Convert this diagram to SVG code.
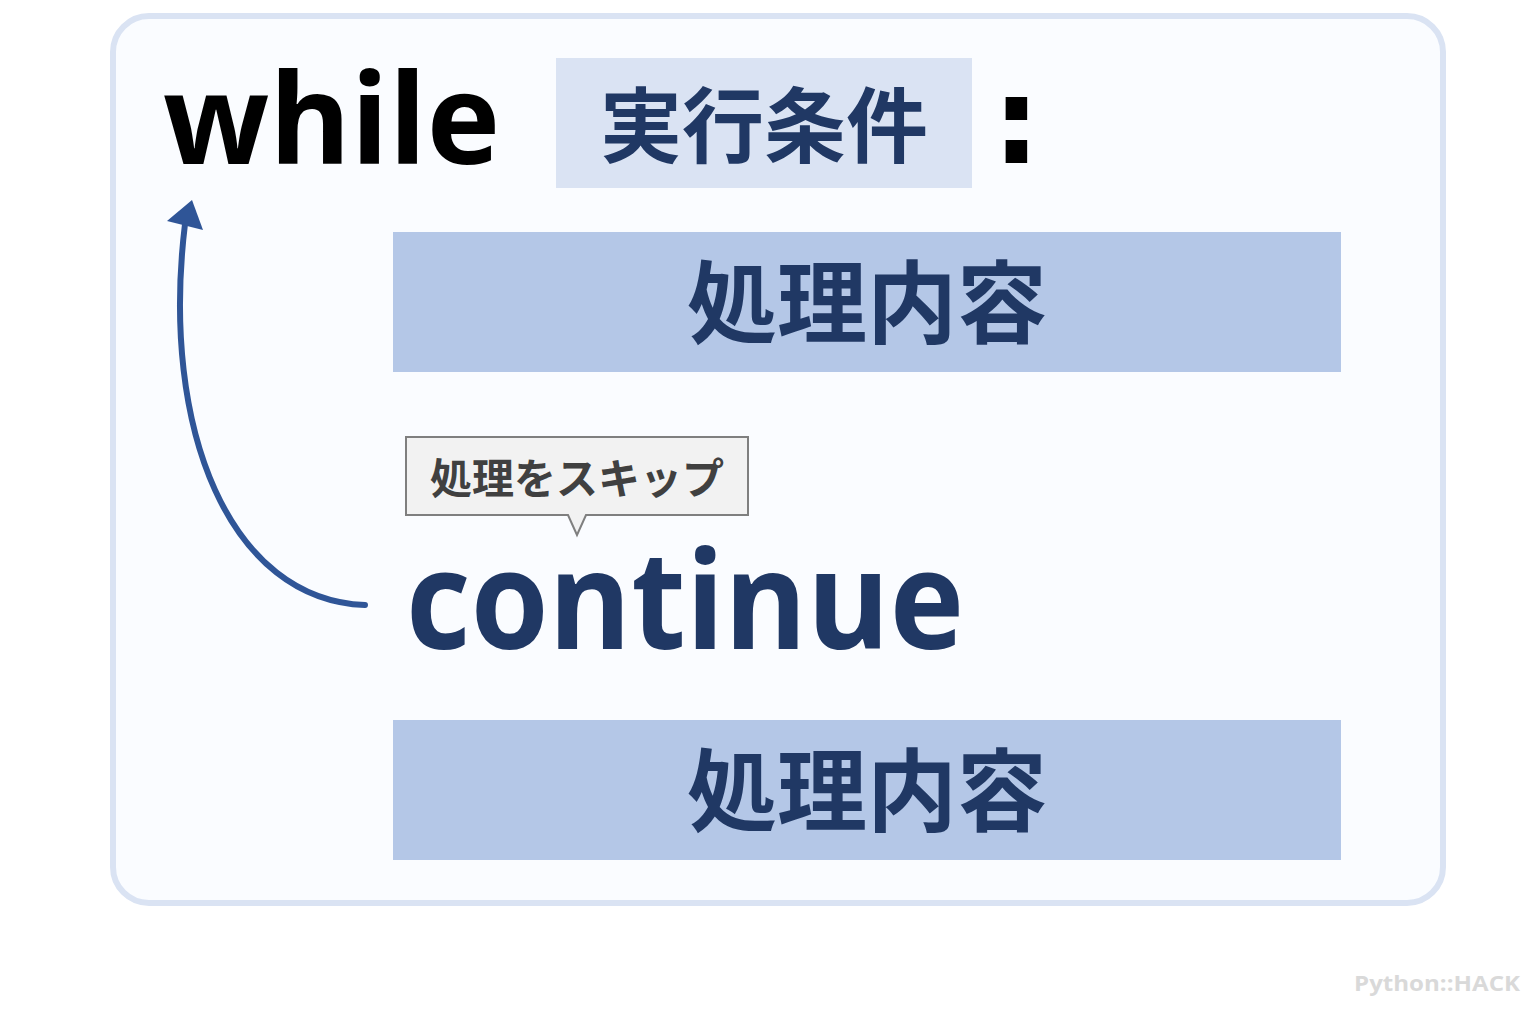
<svg xmlns="http://www.w3.org/2000/svg" width="1536" height="1009" viewBox="0 0 1536 1009">
<style>
.t{font-family:"Noto Sans CJK JP","Noto Sans",sans-serif;font-weight:bold}
.lat{font-family:"Open Sans","Noto Sans",sans-serif;font-weight:bold}
.box{fill:#b4c7e7}
.lbl{fill:#203864;font-size:90px}
</style>
<rect width="1536" height="1009" fill="#ffffff"/>
<g id="frame">
<rect x="113" y="16" width="1330" height="887" rx="36" fill="#fafcff" stroke="#dae3f3" stroke-width="6"/>
</g>
<g id="while">
<text class="lat" x="163" y="164" font-size="126" fill="#000" textLength="337" lengthAdjust="spacingAndGlyphs">while</text>
</g>
<g id="condition">
<rect x="556" y="58" width="416" height="130" fill="#dae3f3"/>
<text class="t" x="764" y="156" font-size="82" fill="#203864" text-anchor="middle">実行条件</text>
</g>
<g id="colon">
<text x="992" y="163" font-size="122" fill="#000" font-family="DejaVu Sans, sans-serif" font-weight="bold">:</text>
</g>
<g id="process1">
<rect class="box" x="393" y="232" width="948" height="140"/>
<text class="t lbl" x="867" y="336" text-anchor="middle">処理内容</text>
</g>
<g id="callout">
<path d="M406 437 H748 V515 H586 L577 535 L568 515 H406 Z" fill="#f2f2f2" stroke="#7f7f7f" stroke-width="2"/>
<text class="t" x="577" y="494" font-size="42" fill="#404040" text-anchor="middle" textLength="294" lengthAdjust="spacingAndGlyphs">処理をスキップ</text>
</g>
<g id="continue">
<text class="lat" x="406" y="649" font-size="136" fill="#203864" textLength="558" lengthAdjust="spacingAndGlyphs">continue</text>
</g>
<g id="process2">
<rect class="box" x="393" y="720" width="948" height="140"/>
<text class="t lbl" x="867" y="824" text-anchor="middle">処理内容</text>
</g>
<g id="connectors">
<path d="M365 605 C230 600 160 430 185 224" fill="none" stroke="#2f5597" stroke-width="6" stroke-linecap="round"/>
<polygon points="192,200 167,221 203,230" fill="#2f5597"/>
</g>
<g id="watermark">
<text class="lat" x="1354" y="991" font-size="22" fill="#d9d9d9" textLength="166" lengthAdjust="spacingAndGlyphs">Python::HACK</text>
</g>
</svg>
